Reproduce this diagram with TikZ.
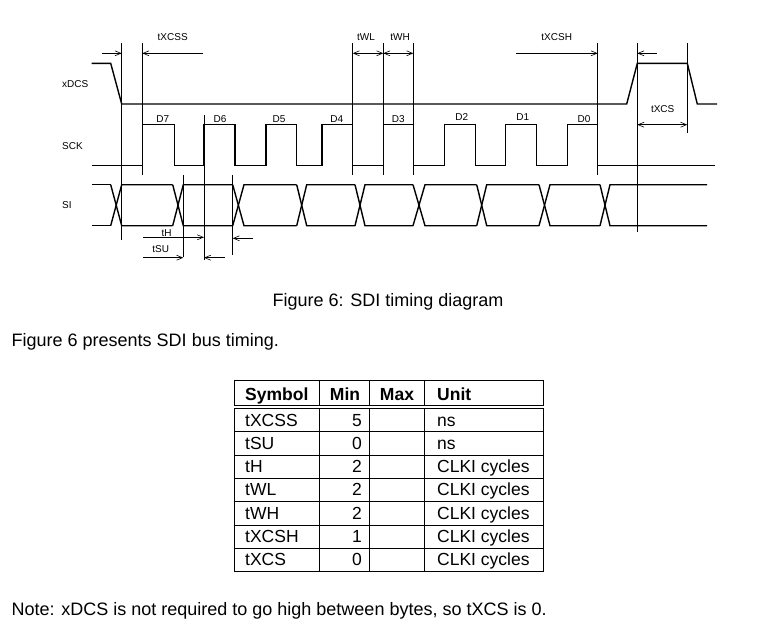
\documentclass[tikz,border=0pt]{standalone}
\usepackage{fontspec}
\setmainfont{Liberation Sans}
\usetikzlibrary{arrows.meta}
\begin{document}
\begin{tikzpicture}[x=1pt,y=-1pt,
  sig/.style={line width=1.4pt,line join=miter},
  guide/.style={line width=0.6pt},
  dim/.style={line width=0.6pt,-{Straight Barb[length=6pt,width=5pt]}},
  ddim/.style={line width=0.6pt,{Straight Barb[length=6pt,width=5pt]}-{Straight Barb[length=6pt,width=5pt]}},
  lbl/.style={font=\fontsize{10}{12}\selectfont,inner sep=0pt,anchor=base},
  txt/.style={font=\fontsize{18}{21}\selectfont,inner sep=0pt,anchor=base west},
  cell/.style={font=\fontsize{17.5}{20}\selectfont,inner sep=0pt},
  hcell/.style={font=\fontsize{17.5}{20}\selectfont\bfseries,inner sep=0pt}]
\useasboundingbox (0,0) rectangle (774,625);
% xDCS
\draw[sig] (91.7,63.3) -- (110.7,63.3) -- (121.7,104) -- (626.7,104) -- (637.3,63.3) -- (687.3,63.3) -- (697.3,104) -- (717,104);
% SCK
\draw[sig] (91.7,165.3)
  \foreach \r/\f in {142.3/174.3,204/235,266/296.7,322/352.7,383.3/413.3,444.3/475.7,505.7/536.7,567.3/597.7}{
   -- (\r,165.3) -- (\r,124.7) -- (\f,124.7) -- (\f,165.3)} -- (715,165.3);
% SI
\def\hi{184.7}\def\lo{225.7}
\draw[sig] (91.7,\hi) -- (110.7,\hi) (91.7,\lo) -- (110.7,\lo);
\foreach \a/\b/\n in {110.7/121.7/172.7,172.7/183.3/232.7,232.7/244/296.7,296.7/306.7/355,355/365/413,413/425/476.7,476.7/486.7/539,539/550/600,600/610/707}{
  \draw[sig] (\a,\hi) -- (\b,\lo) -- (\n,\lo);
  \draw[sig] (\a,\lo) -- (\b,\hi) -- (\n,\hi);
}
% guide lines
\draw[guide] (121.7,43) -- (121.7,240);
\draw[guide] (142.3,43) -- (142.3,175);
\draw[guide] (204,115) -- (204,260);
\draw[guide] (183.3,175) -- (183.3,256.7);
\draw[guide] (232.7,175) -- (232.7,255);
\draw[guide] (352.7,43) -- (352.7,175);
\draw[guide] (383.3,43) -- (383.3,175);
\draw[guide] (413.3,43) -- (413.3,175);
\draw[guide] (597.7,43) -- (597.7,175);
\draw[guide] (637.3,43) -- (637.3,232);
\draw[guide] (687.3,43) -- (687.3,133);
% dimension arrows
\draw[dim] (101.7,53.3) -- (121.7,53.3);
\draw[dim] (203,53.3) -- (142.3,53.3);
\node[lbl] (ltxcss) at (172.7,40.5) {tXCSS};
\draw[ddim] (352.7,53.3) -- (383.3,53.3);
\draw[ddim] (383.3,53.3) -- (413.3,53.3);
\node[lbl] (ltwl) at (366,40.5) {tWL};
\node[lbl] (ltwh) at (400,40.5) {tWH};
\draw[dim] (516,53.3) -- (597.7,53.3);
\node[lbl] (ltxcsh) at (556.7,40.5) {tXCSH};
\draw[dim] (656.7,53.3) -- (637.3,53.3);
\draw[ddim] (637.3,124.7) -- (687.3,124.7);
\node[lbl] (ltxcs) at (662.7,112) {tXCS};
\draw[dim] (143.3,237.3) -- (204,237.3);
\node[lbl] (lth) at (166.7,236) {tH};
\draw[dim] (253.3,238.3) -- (232.7,238.3);
\draw[dim] (143.3,257.7) -- (183.3,257.7);
\node[lbl] (ltsu) at (160.7,252) {tSU};
\draw[dim] (225,257.7) -- (204,257.7);
% signal names
\node[lbl,anchor=base west] (nx) at (62,87) {xDCS};
\node[lbl,anchor=base west] (ns) at (62,149.5) {SCK};
\node[lbl,anchor=base west] (nsi) at (62,208.5) {SI};
\foreach \x/\y/\t in {162.7/122.5/D7,220/122.5/D6,279/122.5/D5,336.7/122.5/D4,398.3/122.5/D3,461.7/120.5/D2,522.7/120.5/D1,584/122.5/D0}
  \node[lbl] (n\t) at (\x,\y) {\t};
% texts
\node[txt,anchor=base] (cap) at (388,306.5) {Figure 6: SDI timing diagram};
\node[txt] (p1) at (11.5,346) {Figure 6 presents SDI bus timing.};
\node[txt] (p2) at (11.5,615) {Note: xDCS is not required to go high between bytes, so tXCS is 0.};
% table
\draw[line width=0.6pt] (234,380) rectangle (543,405);
\draw[line width=0.6pt] (234,408.3) rectangle (543,571.5);
\foreach \x in {319.3,369.3,424}{
  \draw[line width=0.6pt] (\x,380) -- (\x,405);
  \draw[line width=0.6pt] (\x,408.3) -- (\x,571.5);}
\foreach \y in {431.6,454.9,478.2,501.5,524.8,548.1}
  \draw[line width=0.6pt] (234,\y) -- (543,\y);
\node[hcell,anchor=base west] (h1) at (245,400) {Symbol};
\node[hcell,anchor=base] (h2) at (345,400) {Min};
\node[hcell,anchor=base] (h3) at (397,400) {Max};
\node[hcell,anchor=base west] (h4) at (437,400) {Unit};
\foreach \i/\s/\m/\u in {0/tXCSS/5/ns,1/tSU/0/ns,2/tH/2/CLKI cycles,3/tWL/2/CLKI cycles,4/tWH/2/CLKI cycles,5/tXCSH/1/CLKI cycles,6/tXCS/0/CLKI cycles}{
  \node[cell,anchor=base west] (s\i) at (245,426+23.3*\i) {\s};
  \node[cell,anchor=base east] (m\i) at (362,426+23.3*\i) {\m};
  \node[cell,anchor=base west] (u\i) at (437,426+23.3*\i) {\u};
}
\end{tikzpicture}
\end{document}
